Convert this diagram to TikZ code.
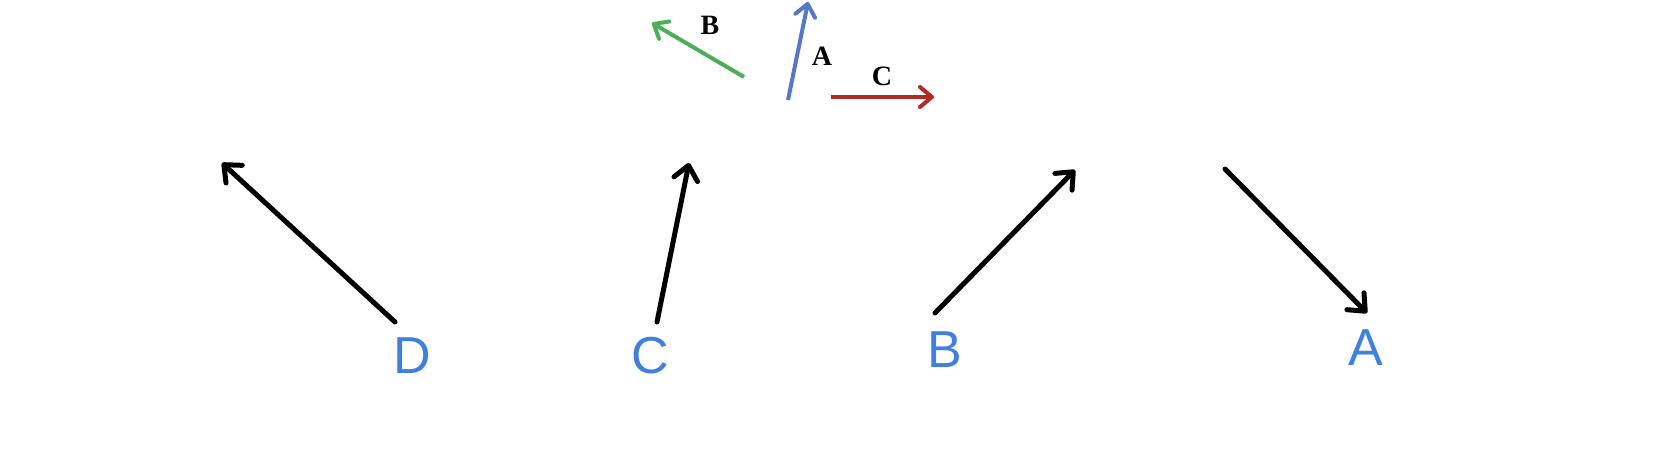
\documentclass[tikz,border=0pt]{standalone}
\usepackage{fontspec}
\setmainfont{Liberation Serif}
\newfontfamily\handfont{Liberation Sans}
\usetikzlibrary{arrows.meta}
\definecolor{hblue}{HTML}{3F7FE0}
\definecolor{vgreen}{HTML}{4BAE5B}
\definecolor{vblue}{HTML}{5577C8}
\definecolor{vred}{HTML}{B22A25}
\tikzset{
  blk/.style={line width=2.5pt,line cap=round,-{Straight Barb[length=7pt,width=12pt,round]}},
  vec/.style={line width=2pt,-{Straight Barb[length=6pt,width=10pt,round]}},
  vlab/.style={font=\fontsize{14}{14}\selectfont\bfseries,text=black,inner sep=0pt},
  hlab/.style={font=\handfont\fontsize{26}{26}\selectfont,text=hblue,inner sep=0pt},
}
\begin{document}
\begin{tikzpicture}[x=0.5pt,y=-0.5pt]
\useasboundingbox (0,0) rectangle (1668,464);
% black arrows
\coordinate (d0) at (395,322); \coordinate (d1) at (222,163);
\coordinate (c0) at (657,322); \coordinate (c1) at (689,163);
\coordinate (b0) at (935,313); \coordinate (b1) at (1075,170);
\coordinate (a0) at (1225,169); \coordinate (a1) at (1367,313);
\draw[blk] (d0) -- (d1);
\draw[blk] (c0) -- (c1);
\draw[blk] (b0) -- (b1);
\draw[blk] (a0) -- (a1);
% top vectors
\coordinate (g0) at (744,77); \coordinate (g1) at (652,23);
\coordinate (u0) at (788,100); \coordinate (u1) at (808,2);
\coordinate (r0) at (831,97); \coordinate (r1) at (934,97);
\draw[vec,vgreen] (g0) -- (g1);
\draw[vec,vblue] (u0) -- (u1);
\draw[vec,vred] (r0) -- (r1);
\node[vlab] (lb) at (710,25) {B};
\node[vlab] (la) at (822,56) {A};
\node[vlab] (lc) at (882,76) {C};
% hand letters
\node[hlab] (hd) at (412,356) {D};
\node[hlab] (hc) at (650,356) {C};
\node[hlab] (hb) at (945,350) {B};
\node[hlab] (ha) at (1366,348) {A};
\end{tikzpicture}
\end{document}
